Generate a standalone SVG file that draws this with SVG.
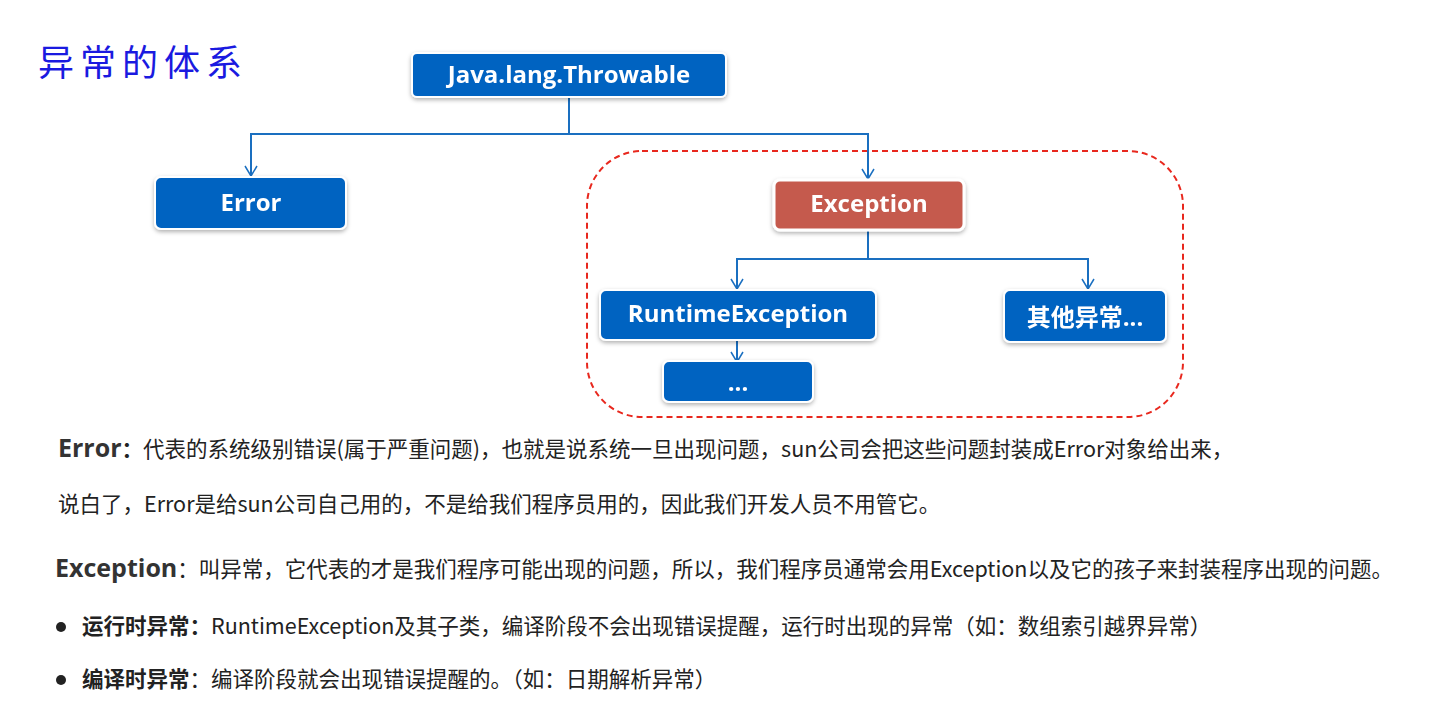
<svg xmlns="http://www.w3.org/2000/svg" width="1452" height="701" viewBox="0 0 1452 701">
<style>
.n{fill:#0563c1;stroke:#fff;stroke-width:2}
.t{font-family:"Open Sans","Noto Sans CJK SC",sans-serif;font-weight:700;fill:#fff;font-size:24px;text-anchor:middle}
.c{fill:none;stroke:#1a6fc0;stroke-width:2}
.b{font-family:"Noto Sans CJK SC",sans-serif;font-size:21.5px;fill:#222}
.h{font-family:"Open Sans","Noto Sans CJK SC",sans-serif;font-weight:700;font-size:25px;fill:#333}
</style>
<defs>
<marker id="a" markerWidth="14" markerHeight="14" refX="12" refY="7" orient="auto" markerUnits="userSpaceOnUse"><path d="M2,1 L12,7 L2,13" fill="none" stroke="#1a6fc0" stroke-width="1.5"/></marker>
<filter id="s" x="-10%" y="-20%" width="120%" height="150%"><feDropShadow dx="0" dy="2" stdDeviation="2" flood-opacity="0.3"/></filter>
</defs>
<rect width="1452" height="701" fill="#fff"/>
<text x="38" y="76" font-family="'Noto Sans CJK SC',sans-serif" font-size="36" fill="#1a1ae0" letter-spacing="6">异常的体系</text>
<rect x="587" y="151" width="596" height="266" rx="55" fill="none" stroke="#e8281e" stroke-width="2" stroke-dasharray="6,4"/>
<g id="connectors">
<path class="c" d="M569,96 V134 H251 V176" marker-end="url(#a)"/>
<path class="c" d="M569,134 H868 V179" marker-end="url(#a)"/>
<path class="c" d="M868,230 V259 H737 V289" marker-end="url(#a)"/>
<path class="c" d="M868,259 H1088 V289" marker-end="url(#a)"/>
<path class="c" d="M737,340 V362" marker-end="url(#a)"/>
</g>
<g id="throwable" filter="url(#s)"><rect class="n" x="412" y="53" width="314" height="44" rx="5"/><text class="t" x="569" y="83">Java.lang.Throwable</text></g>
<g id="error" filter="url(#s)"><rect class="n" x="155" y="177" width="191" height="52" rx="6"/><text class="t" x="251" y="211">Error</text></g>
<g id="exception" filter="url(#s)"><rect x="774" y="180" width="190" height="50" rx="6" fill="#c55a4e" stroke="#fff" stroke-width="3"/><text class="t" x="869" y="212">Exception</text></g>
<g id="runtime" filter="url(#s)"><rect class="n" x="600" y="290" width="276" height="50" rx="6"/><text class="t" x="738" y="322">RuntimeException</text></g>
<g id="other" filter="url(#s)"><rect class="n" x="1004" y="290" width="162" height="52" rx="6"/><text class="t" x="1085" y="326">其他异常...</text></g>
<g id="dots" filter="url(#s)"><rect class="n" x="663" y="361" width="150" height="41" rx="6"/><text class="t" x="738" y="391">...</text></g>
<text x="58" y="457" class="b"><tspan class="h">Error</tspan><tspan font-weight="700">：</tspan>代表的系统级别错误(属于严重问题)，也就是说系统一旦出现问题，sun公司会把这些问题封装成Error对象给出来，</text>
<text x="58" y="512" class="b">说白了，Error是给sun公司自己用的，不是给我们程序员用的，因此我们开发人员不用管它。</text>
<text x="55" y="577" class="b"><tspan class="h">Exception</tspan>：叫异常，它代表的才是我们程序可能出现的问题，所以，我们程序员通常会用Exception以及它的孩子来封装程序出现的问题。</text>
<circle cx="61" cy="627" r="5" fill="#222"/>
<text x="82" y="634" class="b"><tspan font-weight="700">运行时异常：</tspan>RuntimeException及其子类，编译阶段不会出现错误提醒，运行时出现的异常（如：数组索引越界异常）</text>
<circle cx="61" cy="680" r="5" fill="#222"/>
<text x="82" y="687" class="b"><tspan font-weight="700">编译时异常</tspan>：编译阶段就会出现错误提醒的。（如：日期解析异常）</text>
</svg>
